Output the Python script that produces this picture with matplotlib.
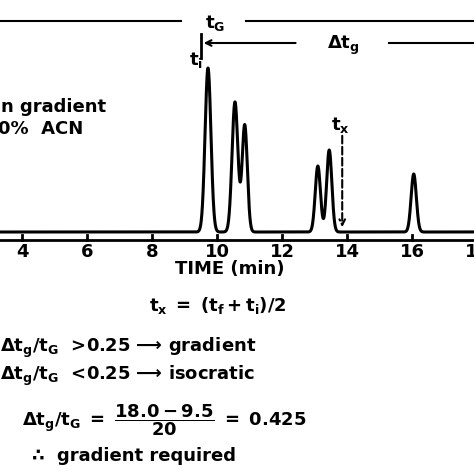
import numpy as np
import matplotlib
matplotlib.use('Agg')
import matplotlib.pyplot as plt

# peak retention times (min) and heights (arbitrary units)
peak_times = [9.72, 10.55, 10.85, 13.1, 13.45, 16.05, 18.2]
peak_heights = [164, 130, 107, 66, 82, 58, 90]
peak_widths = [0.09, 0.09, 0.08, 0.08, 0.08, 0.08, 0.08]
tick_vals = [4, 6, 8, 10, 12, 14, 16, 18]

base = 232
fig = plt.figure(figsize=(4.74, 4.74), dpi=100)
ax = fig.add_axes([0, 0, 1, 1])
x0 = 3.32
x1 = x0 + 474 / 32.5
ax.set_xlim(x0, x1)
ax.set_ylim(474, 0)
ax.axis('off')

t = np.linspace(x0, x1, 3000)
sig = np.zeros_like(t)
for c, h, w in zip(peak_times, peak_heights, peak_widths):
    sig += h * np.exp(-0.5 * ((t - c) / w) ** 2)
ax.plot(t, base - sig, color='black', lw=2.2)

# time axis
ax.plot([x0, x1], [240, 240], color='black', lw=2)
for v in tick_vals:
    ax.plot([v, v], [235, 240], color='black', lw=2)
    ax.text(v, 252, str(v), ha='center', va='center', fontsize=13, fontweight='bold')
ax.text(10.4, 269, 'TIME (min)', ha='center', va='center', fontsize=13, fontweight='bold')

kw = dict(fontsize=13, fontweight='bold', va='center')
# t_G and delta t_g bars
ax.plot([x0, 8.9], [21, 21], color='black', lw=1.5)
ax.plot([10.9, x1], [21, 21], color='black', lw=1.5)
ax.text(9.95, 23, r'$\mathbf{t_G}$', ha='center', **kw)
ax.plot([9.5, 9.5], [34, 58], color='black', lw=2)
ax.annotate('', xy=(9.5, 43), xytext=(12.5, 43),
            arrowprops=dict(arrowstyle='->', color='black', lw=1.5))
ax.plot([15.3, x1], [43, 43], color='black', lw=1.5)
ax.text(13.9, 45, r'$\mathbf{\Delta t_g}$', ha='center', **kw)
ax.text(9.35, 60, r'$\mathbf{t_i}$', ha='center', **kw)
ax.text(13.8, 125, r'$\mathbf{t_x}$', ha='center', **kw)
ax.annotate('', xy=(13.85, 230), xytext=(13.85, 133),
            arrowprops=dict(arrowstyle='->', color='black', lw=1.5, ls='--'))

ax.text(x0 + 0.03, 107, 'n gradient', ha='left', **kw)
ax.text(x0 - 0.05, 129, '0%  ACN', ha='left', **kw)

ax.text(7.9, 305, r'$\mathbf{t_x\ =\ (t_f + t_i)/2}$', ha='left', **kw)
ax.text(x0, 348, r'$\mathbf{\Delta t_g/t_G}$  >0.25 ⟶ gradient', ha='left', **kw)
ax.text(x0, 376, r'$\mathbf{\Delta t_g/t_G}$  <0.25 ⟶ isocratic', ha='left', **kw)
ax.text(4.0, 420, r'$\mathbf{\Delta t_g/t_G\ =\ \dfrac{18.0-9.5}{20}\ =\ 0.425}$', ha='left', **kw)
ax.text(4.3, 456, '∴  gradient required', ha='left', **kw)

fig.savefig('out.png', dpi=100)
